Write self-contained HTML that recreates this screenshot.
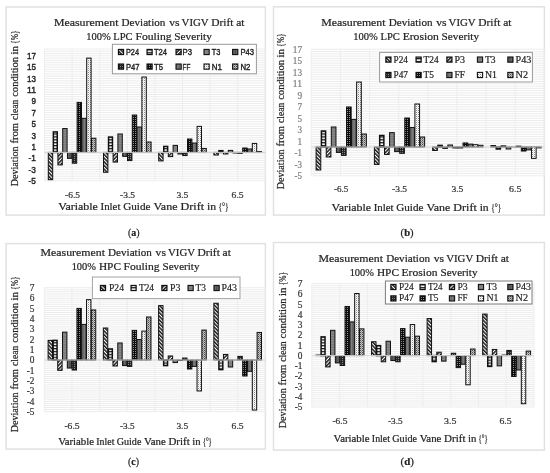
<!DOCTYPE html>
<html lang="en"><head><meta charset="utf-8"><title>Measurement Deviation vs VIGV Drift</title>
<style>html,body{margin:0;padding:0;background:#fff}svg{display:block}text{white-space:pre}</style>
</head><body>
<svg width="550" height="473" viewBox="0 0 550 473">
<rect width="550" height="473" fill="#fff"/>
<defs>
<pattern id="pP24" width="2.6" height="2.6" patternUnits="userSpaceOnUse" patternTransform="rotate(-45)"><rect width="2.6" height="2.6" fill="#fff"/><rect width="1.5" height="2.6" fill="#1a1a1a"/></pattern>
<pattern id="pP3" width="2.6" height="2.6" patternUnits="userSpaceOnUse" patternTransform="rotate(45)"><rect width="2.6" height="2.6" fill="#fff"/><rect width="1.5" height="2.6" fill="#1a1a1a"/></pattern>
<pattern id="pT24" width="30" height="2.9" patternUnits="userSpaceOnUse"><rect width="30" height="2.9" fill="#fff"/><rect width="30" height="1.3" fill="#1a1a1a"/></pattern>
<pattern id="pT3" width="30" height="1.6" patternUnits="userSpaceOnUse"><rect width="30" height="1.6" fill="#8c8c8c"/><rect width="30" height="0.6" fill="#707070"/></pattern>
<pattern id="pP43" width="1.6" height="30" patternUnits="userSpaceOnUse"><rect width="1.6" height="30" fill="#6a6a6a"/><rect width="0.7" height="30" fill="#444"/></pattern>
<pattern id="pP47" width="2" height="2" patternUnits="userSpaceOnUse"><rect width="2" height="2" fill="#262626"/><rect x="0" y="0" width="1" height="1" fill="#8a8a8a"/></pattern>
<pattern id="pT5" width="2" height="2" patternUnits="userSpaceOnUse"><rect width="2" height="2" fill="#0d0d0d"/><rect x="1" y="1" width="1" height="1" fill="#909090"/></pattern>
<pattern id="pFF" width="1.6" height="30" patternUnits="userSpaceOnUse"><rect width="1.6" height="30" fill="#808080"/><rect width="0.6" height="30" fill="#5c5c5c"/></pattern>
<pattern id="pN1" width="2" height="2" patternUnits="userSpaceOnUse"><rect width="2" height="2" fill="#fff"/><rect x="0" y="0" width="1" height="1" fill="#8c8c8c"/><rect x="1" y="1" width="1" height="1" fill="#e0e0e0"/></pattern>
<pattern id="pN2" width="2" height="2" patternUnits="userSpaceOnUse"><rect width="2" height="2" fill="#c4c4c4"/><rect x="0" y="0" width="1" height="1" fill="#4a4a4a"/><rect x="1" y="1" width="1" height="1" fill="#8a8a8a"/></pattern>
</defs>
<g>
<rect x="6.1" y="7" width="259.3" height="208.1" fill="#fff" stroke="#e1e1e1" stroke-width="1.5"/>
<path d="M44.5 180.8H265.3M44.5 178.53H265.3M44.5 176.26H265.3M44.5 173.98H265.3M44.5 171.71H265.3M44.5 169.44H265.3M44.5 167.17H265.3M44.5 164.9H265.3M44.5 162.62H265.3M44.5 160.35H265.3M44.5 158.08H265.3M44.5 155.81H265.3M44.5 153.54H265.3M44.5 151.26H265.3M44.5 148.99H265.3M44.5 146.72H265.3M44.5 144.45H265.3M44.5 142.18H265.3M44.5 139.9H265.3M44.5 137.63H265.3M44.5 135.36H265.3M44.5 133.09H265.3M44.5 130.82H265.3M44.5 128.54H265.3M44.5 126.27H265.3M44.5 124H265.3M44.5 121.73H265.3M44.5 119.46H265.3M44.5 117.18H265.3M44.5 114.91H265.3M44.5 112.64H265.3M44.5 110.37H265.3M44.5 108.1H265.3M44.5 105.82H265.3M44.5 103.55H265.3M44.5 101.28H265.3M44.5 99.01H265.3M44.5 96.74H265.3M44.5 94.46H265.3M44.5 92.19H265.3M44.5 89.92H265.3M44.5 87.65H265.3M44.5 85.38H265.3M44.5 83.1H265.3M44.5 80.83H265.3M44.5 78.56H265.3M44.5 76.29H265.3M44.5 74.02H265.3M44.5 71.74H265.3M44.5 69.47H265.3M44.5 67.2H265.3M44.5 64.93H265.3M44.5 62.66H265.3M44.5 60.38H265.3M44.5 58.11H265.3M44.5 55.84H265.3M44.5 53.57H265.3M44.5 51.3H265.3M44.5 49.02H265.3" stroke="#eaeaea" stroke-width="0.9" fill="none"/>
<path d="M44.5 50.16V180.8M72.1 50.16V180.8M99.7 50.16V180.8M127.3 50.16V180.8M154.9 50.16V180.8M182.5 50.16V180.8M210.1 50.16V180.8M237.7 50.16V180.8M265.3 50.16V180.8" stroke="#ececec" stroke-width="0.9" fill="none"/>
<rect x="48.3" y="152.4" width="4.4" height="27.26" fill="url(#pP24)" stroke="#111" stroke-width="1"/>
<rect x="53.35" y="131.95" width="3.9" height="20.45" fill="url(#pT24)" stroke="#111" stroke-width="1.5"/>
<rect x="57.9" y="152.4" width="4.4" height="12.5" fill="url(#pP3)" stroke="#111" stroke-width="1"/>
<rect x="62.7" y="128.54" width="4.4" height="23.86" fill="url(#pT3)" stroke="#111" stroke-width="1"/>
<rect x="67.5" y="152.4" width="4.4" height="5.96" fill="url(#pP43)" stroke="#111" stroke-width="1"/>
<rect x="72.3" y="152.4" width="4.4" height="10.79" fill="url(#pP47)" stroke="#111" stroke-width="1"/>
<rect x="77.1" y="102.42" width="4.4" height="49.98" fill="url(#pT5)" stroke="#111" stroke-width="1"/>
<rect x="81.9" y="118.32" width="4.4" height="34.08" fill="url(#pFF)" stroke="#111" stroke-width="1"/>
<rect x="86.7" y="58.11" width="4.4" height="94.29" fill="url(#pN1)" stroke="#111" stroke-width="1"/>
<rect x="91.5" y="138.2" width="4.4" height="14.2" fill="url(#pN2)" stroke="#111" stroke-width="1"/>
<rect x="103.5" y="152.4" width="4.4" height="19.88" fill="url(#pP24)" stroke="#111" stroke-width="1"/>
<rect x="108.55" y="137.06" width="3.9" height="15.34" fill="url(#pT24)" stroke="#111" stroke-width="1.5"/>
<rect x="113.1" y="152.4" width="4.4" height="9.66" fill="url(#pP3)" stroke="#111" stroke-width="1"/>
<rect x="117.9" y="134" width="4.4" height="18.4" fill="url(#pT3)" stroke="#111" stroke-width="1"/>
<rect x="122.7" y="152.4" width="4.4" height="3.98" fill="url(#pP43)" stroke="#111" stroke-width="1"/>
<rect x="127.5" y="152.4" width="4.4" height="8.18" fill="url(#pP47)" stroke="#111" stroke-width="1"/>
<rect x="132.3" y="115.03" width="4.4" height="37.37" fill="url(#pT5)" stroke="#111" stroke-width="1"/>
<rect x="137.1" y="127.01" width="4.4" height="25.39" fill="url(#pFF)" stroke="#111" stroke-width="1"/>
<rect x="141.9" y="77.03" width="4.4" height="75.37" fill="url(#pN1)" stroke="#111" stroke-width="1"/>
<rect x="146.7" y="142.01" width="4.4" height="10.39" fill="url(#pN2)" stroke="#111" stroke-width="1"/>
<rect x="158.7" y="152.4" width="4.4" height="8.52" fill="url(#pP24)" stroke="#111" stroke-width="1"/>
<rect x="163.75" y="146.44" width="3.9" height="5.96" fill="url(#pT24)" stroke="#111" stroke-width="1.5"/>
<rect x="168.3" y="152.4" width="4.4" height="4.2" fill="url(#pP3)" stroke="#111" stroke-width="1"/>
<rect x="173.1" y="145.41" width="4.4" height="6.99" fill="url(#pT3)" stroke="#111" stroke-width="1"/>
<rect x="177.9" y="152.4" width="4.4" height="1.59" fill="url(#pP43)" stroke="#111" stroke-width="1"/>
<rect x="182.7" y="152.4" width="4.4" height="3.18" fill="url(#pP47)" stroke="#111" stroke-width="1"/>
<rect x="187.5" y="139" width="4.4" height="13.4" fill="url(#pT5)" stroke="#111" stroke-width="1"/>
<rect x="192.3" y="143.03" width="4.4" height="9.37" fill="url(#pFF)" stroke="#111" stroke-width="1"/>
<rect x="197.1" y="126.39" width="4.4" height="26.01" fill="url(#pN1)" stroke="#111" stroke-width="1"/>
<rect x="201.9" y="148.42" width="4.4" height="3.98" fill="url(#pN2)" stroke="#111" stroke-width="1"/>
<rect x="213.9" y="152.4" width="4.4" height="2.61" fill="url(#pP24)" stroke="#111" stroke-width="1"/>
<rect x="218.95" y="150.7" width="3.9" height="1.7" fill="url(#pT24)" stroke="#111" stroke-width="1.5"/>
<rect x="223.5" y="152.4" width="4.4" height="1.59" fill="url(#pP3)" stroke="#111" stroke-width="1"/>
<rect x="228.3" y="150.41" width="4.4" height="1.99" fill="url(#pT3)" stroke="#111" stroke-width="1"/>
<rect x="233.1" y="152.4" width="4.4" height="0.57" fill="url(#pP43)" stroke="#111" stroke-width="1"/>
<rect x="237.9" y="152.4" width="4.4" height="0.85" fill="url(#pP47)" stroke="#111" stroke-width="1"/>
<rect x="242.7" y="148.03" width="4.4" height="4.37" fill="url(#pT5)" stroke="#111" stroke-width="1"/>
<rect x="247.5" y="148.99" width="4.4" height="3.41" fill="url(#pFF)" stroke="#111" stroke-width="1"/>
<rect x="252.3" y="143.43" width="4.4" height="8.97" fill="url(#pN1)" stroke="#111" stroke-width="1"/>
<rect x="257.1" y="151.6" width="4.4" height="0.8" fill="url(#pN2)" stroke="#111" stroke-width="1"/>
<path d="M44.5 152.4H265.3" stroke="#d4d4d4" stroke-width="1" fill="none"/>
<text x="28.6" y="184" font-size="9.2" font-family='"Liberation Sans", sans-serif' fill="#262626" stroke="#262626" stroke-width="0.42" textLength="7.4" lengthAdjust="spacingAndGlyphs">-5</text>
<text x="28.6" y="172.64" font-size="9.2" font-family='"Liberation Sans", sans-serif' fill="#262626" stroke="#262626" stroke-width="0.42" textLength="7.4" lengthAdjust="spacingAndGlyphs">-3</text>
<text x="28.6" y="161.28" font-size="9.2" font-family='"Liberation Sans", sans-serif' fill="#262626" stroke="#262626" stroke-width="0.42" textLength="7.4" lengthAdjust="spacingAndGlyphs">-1</text>
<text x="31.5" y="149.92" font-size="9.2" font-family='"Liberation Sans", sans-serif' fill="#262626" stroke="#262626" stroke-width="0.42" textLength="4.5" lengthAdjust="spacingAndGlyphs">1</text>
<text x="31.5" y="138.56" font-size="9.2" font-family='"Liberation Sans", sans-serif' fill="#262626" stroke="#262626" stroke-width="0.42" textLength="4.5" lengthAdjust="spacingAndGlyphs">3</text>
<text x="31.5" y="127.2" font-size="9.2" font-family='"Liberation Sans", sans-serif' fill="#262626" stroke="#262626" stroke-width="0.42" textLength="4.5" lengthAdjust="spacingAndGlyphs">5</text>
<text x="31.5" y="115.84" font-size="9.2" font-family='"Liberation Sans", sans-serif' fill="#262626" stroke="#262626" stroke-width="0.42" textLength="4.5" lengthAdjust="spacingAndGlyphs">7</text>
<text x="31.5" y="104.48" font-size="9.2" font-family='"Liberation Sans", sans-serif' fill="#262626" stroke="#262626" stroke-width="0.42" textLength="4.5" lengthAdjust="spacingAndGlyphs">9</text>
<text x="27" y="93.12" font-size="9.2" font-family='"Liberation Sans", sans-serif' fill="#262626" stroke="#262626" stroke-width="0.42" textLength="9" lengthAdjust="spacingAndGlyphs">11</text>
<text x="27" y="81.76" font-size="9.2" font-family='"Liberation Sans", sans-serif' fill="#262626" stroke="#262626" stroke-width="0.42" textLength="9" lengthAdjust="spacingAndGlyphs">13</text>
<text x="27" y="70.4" font-size="9.2" font-family='"Liberation Sans", sans-serif' fill="#262626" stroke="#262626" stroke-width="0.42" textLength="9" lengthAdjust="spacingAndGlyphs">15</text>
<text x="27" y="59.04" font-size="9.2" font-family='"Liberation Sans", sans-serif' fill="#262626" stroke="#262626" stroke-width="0.42" textLength="9" lengthAdjust="spacingAndGlyphs">17</text>
<text y="25.6" font-size="11" font-family='"Liberation Serif", serif' fill="#262626" stroke="#262626" stroke-width="0.22">
<tspan x="53.95" textLength="64.5" lengthAdjust="spacingAndGlyphs">Measurement</tspan> 
<tspan x="121.55" textLength="43.9" lengthAdjust="spacingAndGlyphs">Deviation</tspan> 
<tspan x="169.15" textLength="10.3" lengthAdjust="spacingAndGlyphs">vs</tspan> 
<tspan x="181.55" textLength="26.9" lengthAdjust="spacingAndGlyphs">VIGV</tspan> 
<tspan x="211.15" textLength="22.3" lengthAdjust="spacingAndGlyphs">Drift</tspan> 
<tspan x="236.15" textLength="8.3" lengthAdjust="spacingAndGlyphs">at</tspan>
</text>
<text y="39.8" font-size="11" font-family='"Liberation Serif", serif' fill="#262626" stroke="#262626" stroke-width="0.22">
<tspan x="86.15" textLength="24.5" lengthAdjust="spacingAndGlyphs">100%</tspan> 
<tspan x="113.25" textLength="19.4" lengthAdjust="spacingAndGlyphs">LPC</tspan> 
<tspan x="135.45" textLength="36.2" lengthAdjust="spacingAndGlyphs">Fouling</tspan> 
<tspan x="174.35" textLength="37.5" lengthAdjust="spacingAndGlyphs">Severity</tspan>
</text>
<text transform="translate(18.3 186) rotate(-90)" y="0" font-size="10.5" font-family='"Liberation Serif", serif' fill="#262626" stroke="#262626" stroke-width="0.22">
<tspan x="-0.25" textLength="39.8" lengthAdjust="spacingAndGlyphs">Deviation</tspan> 
<tspan x="42.45" textLength="20.7" lengthAdjust="spacingAndGlyphs">from</tspan> 
<tspan x="65.95" textLength="20.3" lengthAdjust="spacingAndGlyphs">clean</tspan> 
<tspan x="89.15" textLength="40" lengthAdjust="spacingAndGlyphs">condition</tspan> 
<tspan x="131.55" textLength="8.4" lengthAdjust="spacingAndGlyphs">in</tspan> 
<tspan x="142.25" textLength="13.2" lengthAdjust="spacingAndGlyphs">{%}</tspan>
</text>
<text y="210" font-size="10.8" font-family='"Liberation Serif", serif' fill="#262626" stroke="#262626" stroke-width="0.22">
<tspan x="58.15" textLength="39.7" lengthAdjust="spacingAndGlyphs">Variable</tspan> 
<tspan x="100.55" textLength="19.9" lengthAdjust="spacingAndGlyphs">Inlet</tspan> 
<tspan x="123.15" textLength="27.3" lengthAdjust="spacingAndGlyphs">Guide</tspan> 
<tspan x="153.55" textLength="23.9" lengthAdjust="spacingAndGlyphs">Vane</tspan> 
<tspan x="180.55" textLength="23.5" lengthAdjust="spacingAndGlyphs">Drift</tspan> 
<tspan x="206.95" textLength="9.1" lengthAdjust="spacingAndGlyphs">in</tspan> 
<tspan x="218.55" textLength="10.1" lengthAdjust="spacingAndGlyphs">{°}</tspan>
</text>
<text x="65" y="197.6" font-size="9.2" font-family='"Liberation Serif", serif' fill="#333" stroke="#333" stroke-width="0.22" textLength="15" lengthAdjust="spacingAndGlyphs">-6.5</text>
<text x="120" y="197.6" font-size="9.2" font-family='"Liberation Serif", serif' fill="#333" stroke="#333" stroke-width="0.22" textLength="15" lengthAdjust="spacingAndGlyphs">-3.5</text>
<text x="176.4" y="197.6" font-size="9.2" font-family='"Liberation Serif", serif' fill="#333" stroke="#333" stroke-width="0.22" textLength="12" lengthAdjust="spacingAndGlyphs">3.5</text>
<text x="231.6" y="197.6" font-size="9.2" font-family='"Liberation Serif", serif' fill="#333" stroke="#333" stroke-width="0.22" textLength="12" lengthAdjust="spacingAndGlyphs">6.5</text>
<rect x="112.4" y="44.3" width="144" height="29.5" fill="#fff" stroke="#999" stroke-width="1"/>
<rect x="118.47" y="49.48" width="5.05" height="5.05" fill="url(#pP24)" stroke="#111" stroke-width="1.25"/>
<text x="126" y="55.3" font-size="9.2" font-family='"Liberation Sans", sans-serif' fill="#262626" stroke="#262626" stroke-width="0.42" textLength="13" lengthAdjust="spacingAndGlyphs">P24</text>
<rect x="147.07" y="49.48" width="5.05" height="5.05" fill="url(#pT24)" stroke="#111" stroke-width="1.25"/>
<text x="154" y="55.3" font-size="9.2" font-family='"Liberation Sans", sans-serif' fill="#262626" stroke="#262626" stroke-width="0.42" textLength="13" lengthAdjust="spacingAndGlyphs">T24</text>
<rect x="176.07" y="49.48" width="5.05" height="5.05" fill="url(#pP3)" stroke="#111" stroke-width="1.25"/>
<text x="182.6" y="55.3" font-size="9.2" font-family='"Liberation Sans", sans-serif' fill="#262626" stroke="#262626" stroke-width="0.42" textLength="9.4" lengthAdjust="spacingAndGlyphs">P3</text>
<rect x="204" y="49.4" width="5.2" height="5.2" fill="url(#pT3)" stroke="#111" stroke-width="1.1"/>
<text x="211.8" y="55.3" font-size="9.2" font-family='"Liberation Sans", sans-serif' fill="#262626" stroke="#262626" stroke-width="0.42" textLength="8.6" lengthAdjust="spacingAndGlyphs">T3</text>
<rect x="232.6" y="49.4" width="5.2" height="5.2" fill="url(#pP43)" stroke="#111" stroke-width="1.1"/>
<text x="240.4" y="55.3" font-size="9.2" font-family='"Liberation Sans", sans-serif' fill="#262626" stroke="#262626" stroke-width="0.42" textLength="13.6" lengthAdjust="spacingAndGlyphs">P43</text>
<rect x="118.47" y="64.07" width="5.05" height="5.05" fill="url(#pP47)" stroke="#111" stroke-width="1.25"/>
<text x="126" y="69.9" font-size="9.2" font-family='"Liberation Sans", sans-serif' fill="#262626" stroke="#262626" stroke-width="0.42" textLength="13.6" lengthAdjust="spacingAndGlyphs">P47</text>
<rect x="147.07" y="64.07" width="5.05" height="5.05" fill="url(#pT5)" stroke="#111" stroke-width="1.25"/>
<text x="154" y="69.9" font-size="9.2" font-family='"Liberation Sans", sans-serif' fill="#262626" stroke="#262626" stroke-width="0.42" textLength="9" lengthAdjust="spacingAndGlyphs">T5</text>
<rect x="176" y="64" width="5.2" height="5.2" fill="url(#pFF)" stroke="#111" stroke-width="1.1"/>
<text x="182.6" y="69.9" font-size="9.2" font-family='"Liberation Sans", sans-serif' fill="#262626" stroke="#262626" stroke-width="0.42" textLength="7.8" lengthAdjust="spacingAndGlyphs">FF</text>
<rect x="204" y="64" width="5.2" height="5.2" fill="url(#pN1)" stroke="#111" stroke-width="1.1"/>
<text x="211.8" y="69.9" font-size="9.2" font-family='"Liberation Sans", sans-serif' fill="#262626" stroke="#262626" stroke-width="0.42" textLength="10.2" lengthAdjust="spacingAndGlyphs">N1</text>
<rect x="232.6" y="64" width="5.2" height="5.2" fill="url(#pN2)" stroke="#111" stroke-width="1.1"/>
<text x="240.4" y="69.9" font-size="9.2" font-family='"Liberation Sans", sans-serif' fill="#262626" stroke="#262626" stroke-width="0.42" textLength="10" lengthAdjust="spacingAndGlyphs">N2</text>
<text x="128" y="236" font-size="10.5" font-family='"Liberation Serif", serif' fill="#222" stroke="#222" stroke-width="0.2" textLength="11.6" lengthAdjust="spacingAndGlyphs">(<tspan font-weight="bold">a</tspan>)</text>
</g>
<g>
<rect x="273.5" y="6.8" width="270.9" height="208.3" fill="#fff" stroke="#e1e1e1" stroke-width="1.5"/>
<path d="M311.3 175.75H544.4M311.3 173.45H544.4M311.3 171.15H544.4M311.3 168.85H544.4M311.3 166.55H544.4M311.3 164.25H544.4M311.3 161.95H544.4M311.3 159.65H544.4M311.3 157.35H544.4M311.3 155.05H544.4M311.3 152.75H544.4M311.3 150.45H544.4M311.3 148.15H544.4M311.3 145.85H544.4M311.3 143.55H544.4M311.3 141.25H544.4M311.3 138.95H544.4M311.3 136.65H544.4M311.3 134.35H544.4M311.3 132.05H544.4M311.3 129.75H544.4M311.3 127.45H544.4M311.3 125.15H544.4M311.3 122.85H544.4M311.3 120.55H544.4M311.3 118.25H544.4M311.3 115.95H544.4M311.3 113.65H544.4M311.3 111.35H544.4M311.3 109.05H544.4M311.3 106.75H544.4M311.3 104.45H544.4M311.3 102.15H544.4M311.3 99.85H544.4M311.3 97.55H544.4M311.3 95.25H544.4M311.3 92.95H544.4M311.3 90.65H544.4M311.3 88.35H544.4M311.3 86.05H544.4M311.3 83.75H544.4M311.3 81.45H544.4M311.3 79.15H544.4M311.3 76.85H544.4M311.3 74.55H544.4M311.3 72.25H544.4M311.3 69.95H544.4M311.3 67.65H544.4M311.3 65.35H544.4M311.3 63.05H544.4M311.3 60.75H544.4M311.3 58.45H544.4M311.3 56.15H544.4M311.3 53.85H544.4M311.3 51.55H544.4M311.3 49.25H544.4" stroke="#eaeaea" stroke-width="0.9" fill="none"/>
<path d="M311.3 49.25V175.75M340.44 49.25V175.75M369.57 49.25V175.75M398.71 49.25V175.75M427.85 49.25V175.75M456.99 49.25V175.75M486.12 49.25V175.75M515.26 49.25V175.75M544.4 49.25V175.75" stroke="#ececec" stroke-width="0.9" fill="none"/>
<rect x="316.1" y="147" width="4.67" height="23" fill="url(#pP24)" stroke="#111" stroke-width="1"/>
<rect x="321.42" y="131.01" width="4.17" height="15.99" fill="url(#pT24)" stroke="#111" stroke-width="1.5"/>
<rect x="326.24" y="147" width="4.67" height="10" fill="url(#pP3)" stroke="#111" stroke-width="1"/>
<rect x="331.3" y="126.99" width="4.67" height="20.01" fill="url(#pT3)" stroke="#111" stroke-width="1"/>
<rect x="336.37" y="147" width="4.67" height="5.41" fill="url(#pP43)" stroke="#111" stroke-width="1"/>
<rect x="341.44" y="147" width="4.67" height="8.4" fill="url(#pP47)" stroke="#111" stroke-width="1"/>
<rect x="346.5" y="106.98" width="4.67" height="40.02" fill="url(#pT5)" stroke="#111" stroke-width="1"/>
<rect x="351.57" y="119.4" width="4.67" height="27.6" fill="url(#pFF)" stroke="#111" stroke-width="1"/>
<rect x="356.64" y="82.02" width="4.67" height="64.98" fill="url(#pN1)" stroke="#111" stroke-width="1"/>
<rect x="361.71" y="134" width="4.67" height="13" fill="url(#pN2)" stroke="#111" stroke-width="1"/>
<rect x="374.38" y="147" width="4.67" height="17.42" fill="url(#pP24)" stroke="#111" stroke-width="1"/>
<rect x="379.69" y="135.5" width="4.17" height="11.5" fill="url(#pT24)" stroke="#111" stroke-width="1.5"/>
<rect x="384.51" y="147" width="4.67" height="7.42" fill="url(#pP3)" stroke="#111" stroke-width="1"/>
<rect x="389.58" y="132.62" width="4.67" height="14.38" fill="url(#pT3)" stroke="#111" stroke-width="1"/>
<rect x="394.65" y="147" width="4.67" height="4.6" fill="url(#pP43)" stroke="#111" stroke-width="1"/>
<rect x="399.71" y="147" width="4.67" height="6.32" fill="url(#pP47)" stroke="#111" stroke-width="1"/>
<rect x="404.78" y="118.02" width="4.67" height="28.98" fill="url(#pT5)" stroke="#111" stroke-width="1"/>
<rect x="409.85" y="127.45" width="4.67" height="19.55" fill="url(#pFF)" stroke="#111" stroke-width="1"/>
<rect x="414.91" y="103.99" width="4.67" height="43.01" fill="url(#pN1)" stroke="#111" stroke-width="1"/>
<rect x="419.98" y="137" width="4.67" height="10" fill="url(#pN2)" stroke="#111" stroke-width="1"/>
<rect x="432.65" y="147" width="4.67" height="3.45" fill="url(#pP24)" stroke="#111" stroke-width="1"/>
<rect x="437.97" y="145.39" width="4.17" height="1.61" fill="url(#pT24)" stroke="#111" stroke-width="1.5"/>
<rect x="442.79" y="147" width="4.67" height="1.38" fill="url(#pP3)" stroke="#111" stroke-width="1"/>
<rect x="447.85" y="144.99" width="4.67" height="2.01" fill="url(#pT3)" stroke="#111" stroke-width="1"/>
<rect x="452.92" y="147" width="4.67" height="0.98" fill="url(#pP43)" stroke="#111" stroke-width="1"/>
<rect x="457.99" y="147" width="4.67" height="0.98" fill="url(#pP47)" stroke="#111" stroke-width="1"/>
<rect x="463.05" y="142.97" width="4.67" height="4.03" fill="url(#pT5)" stroke="#111" stroke-width="1"/>
<rect x="468.12" y="144.12" width="4.67" height="2.88" fill="url(#pFF)" stroke="#111" stroke-width="1"/>
<rect x="473.19" y="144.7" width="4.67" height="2.3" fill="url(#pN1)" stroke="#111" stroke-width="1"/>
<rect x="478.26" y="145.28" width="4.67" height="1.72" fill="url(#pN2)" stroke="#111" stroke-width="1"/>
<rect x="490.93" y="145.56" width="4.67" height="1.44" fill="url(#pP24)" stroke="#111" stroke-width="1"/>
<rect x="496.24" y="147" width="4.17" height="2.01" fill="url(#pT24)" stroke="#111" stroke-width="1.5"/>
<rect x="501.06" y="145.85" width="4.67" height="1.15" fill="url(#pP3)" stroke="#111" stroke-width="1"/>
<rect x="506.13" y="147" width="4.67" height="2.01" fill="url(#pT3)" stroke="#111" stroke-width="1"/>
<path d="M511 147H516.06" stroke="#222" stroke-width="0.9"/>
<rect x="516.26" y="146.14" width="4.67" height="0.86" fill="url(#pP47)" stroke="#111" stroke-width="1"/>
<rect x="521.33" y="147" width="4.67" height="4.03" fill="url(#pT5)" stroke="#111" stroke-width="1"/>
<rect x="526.4" y="147" width="4.67" height="2.88" fill="url(#pFF)" stroke="#111" stroke-width="1"/>
<rect x="531.46" y="147" width="4.67" height="11.38" fill="url(#pN1)" stroke="#111" stroke-width="1"/>
<rect x="536.53" y="147" width="4.67" height="0.86" fill="url(#pN2)" stroke="#111" stroke-width="1"/>
<path d="M311.3 147H544.4" stroke="#d4d4d4" stroke-width="1" fill="none"/>
<text x="294.6" y="179.35" font-size="10" font-family='"Liberation Serif", serif' fill="#7f7f7f" stroke="#7f7f7f" stroke-width="0.22" textLength="7.4" lengthAdjust="spacingAndGlyphs">-5</text>
<text x="294.6" y="167.85" font-size="10" font-family='"Liberation Serif", serif' fill="#7f7f7f" stroke="#7f7f7f" stroke-width="0.22" textLength="7.4" lengthAdjust="spacingAndGlyphs">-3</text>
<text x="294.6" y="156.35" font-size="10" font-family='"Liberation Serif", serif' fill="#7f7f7f" stroke="#7f7f7f" stroke-width="0.22" textLength="7.4" lengthAdjust="spacingAndGlyphs">-1</text>
<text x="297.4" y="144.85" font-size="10" font-family='"Liberation Serif", serif' fill="#7f7f7f" stroke="#7f7f7f" stroke-width="0.22" textLength="4.6" lengthAdjust="spacingAndGlyphs">1</text>
<text x="297.4" y="133.35" font-size="10" font-family='"Liberation Serif", serif' fill="#7f7f7f" stroke="#7f7f7f" stroke-width="0.22" textLength="4.6" lengthAdjust="spacingAndGlyphs">3</text>
<text x="297.4" y="121.85" font-size="10" font-family='"Liberation Serif", serif' fill="#7f7f7f" stroke="#7f7f7f" stroke-width="0.22" textLength="4.6" lengthAdjust="spacingAndGlyphs">5</text>
<text x="297.4" y="110.35" font-size="10" font-family='"Liberation Serif", serif' fill="#7f7f7f" stroke="#7f7f7f" stroke-width="0.22" textLength="4.6" lengthAdjust="spacingAndGlyphs">7</text>
<text x="297.4" y="98.85" font-size="10" font-family='"Liberation Serif", serif' fill="#7f7f7f" stroke="#7f7f7f" stroke-width="0.22" textLength="4.6" lengthAdjust="spacingAndGlyphs">9</text>
<text x="292.8" y="87.35" font-size="10" font-family='"Liberation Serif", serif' fill="#7f7f7f" stroke="#7f7f7f" stroke-width="0.22" textLength="9.2" lengthAdjust="spacingAndGlyphs">11</text>
<text x="292.8" y="75.85" font-size="10" font-family='"Liberation Serif", serif' fill="#7f7f7f" stroke="#7f7f7f" stroke-width="0.22" textLength="9.2" lengthAdjust="spacingAndGlyphs">13</text>
<text x="292.8" y="64.35" font-size="10" font-family='"Liberation Serif", serif' fill="#7f7f7f" stroke="#7f7f7f" stroke-width="0.22" textLength="9.2" lengthAdjust="spacingAndGlyphs">15</text>
<text x="292.8" y="52.85" font-size="10" font-family='"Liberation Serif", serif' fill="#7f7f7f" stroke="#7f7f7f" stroke-width="0.22" textLength="9.2" lengthAdjust="spacingAndGlyphs">17</text>
<text y="26" font-size="11" font-family='"Liberation Serif", serif' fill="#262626" stroke="#262626" stroke-width="0.22">
<tspan x="321.15" textLength="64.43" lengthAdjust="spacingAndGlyphs">Measurement</tspan> 
<tspan x="388.68" textLength="43.85" lengthAdjust="spacingAndGlyphs">Deviation</tspan> 
<tspan x="436.23" textLength="10.29" lengthAdjust="spacingAndGlyphs">vs</tspan> 
<tspan x="448.62" textLength="26.87" lengthAdjust="spacingAndGlyphs">VIGV</tspan> 
<tspan x="478.18" textLength="22.28" lengthAdjust="spacingAndGlyphs">Drift</tspan> 
<tspan x="503.16" textLength="8.29" lengthAdjust="spacingAndGlyphs">at</tspan>
</text>
<text y="40" font-size="11" font-family='"Liberation Serif", serif' fill="#262626" stroke="#262626" stroke-width="0.22">
<tspan x="353.35" textLength="24.5" lengthAdjust="spacingAndGlyphs">100%</tspan> 
<tspan x="380.45" textLength="19.4" lengthAdjust="spacingAndGlyphs">LPC</tspan> 
<tspan x="402.65" textLength="36.2" lengthAdjust="spacingAndGlyphs">Erosion</tspan> 
<tspan x="441.55" textLength="37.5" lengthAdjust="spacingAndGlyphs">Severity</tspan>
</text>
<text transform="translate(284.3 189) rotate(-90)" y="0" font-size="10.5" font-family='"Liberation Serif", serif' fill="#262626" stroke="#262626" stroke-width="0.22">
<tspan x="-0.25" textLength="39.8" lengthAdjust="spacingAndGlyphs">Deviation</tspan> 
<tspan x="42.45" textLength="20.7" lengthAdjust="spacingAndGlyphs">from</tspan> 
<tspan x="65.95" textLength="20.3" lengthAdjust="spacingAndGlyphs">clean</tspan> 
<tspan x="89.15" textLength="40" lengthAdjust="spacingAndGlyphs">condition</tspan> 
<tspan x="131.55" textLength="8.4" lengthAdjust="spacingAndGlyphs">in</tspan> 
<tspan x="142.25" textLength="13.2" lengthAdjust="spacingAndGlyphs">{%}</tspan>
</text>
<text y="210.6" font-size="10.8" font-family='"Liberation Serif", serif' fill="#262626" stroke="#262626" stroke-width="0.22">
<tspan x="331.55" textLength="39.52" lengthAdjust="spacingAndGlyphs">Variable</tspan> 
<tspan x="373.75" textLength="19.81" lengthAdjust="spacingAndGlyphs">Inlet</tspan> 
<tspan x="396.24" textLength="27.18" lengthAdjust="spacingAndGlyphs">Guide</tspan> 
<tspan x="426.5" textLength="23.79" lengthAdjust="spacingAndGlyphs">Vane</tspan> 
<tspan x="453.37" textLength="23.39" lengthAdjust="spacingAndGlyphs">Drift</tspan> 
<tspan x="479.65" textLength="9.06" lengthAdjust="spacingAndGlyphs">in</tspan> 
<tspan x="491.19" textLength="10.06" lengthAdjust="spacingAndGlyphs">{°}</tspan>
</text>
<text x="334" y="192.4" font-size="9.2" font-family='"Liberation Serif", serif' fill="#333" stroke="#333" stroke-width="0.22" textLength="14.4" lengthAdjust="spacingAndGlyphs">-6.5</text>
<text x="392" y="192.4" font-size="9.2" font-family='"Liberation Serif", serif' fill="#333" stroke="#333" stroke-width="0.22" textLength="15" lengthAdjust="spacingAndGlyphs">-3.5</text>
<text x="451.4" y="192.4" font-size="9.2" font-family='"Liberation Serif", serif' fill="#333" stroke="#333" stroke-width="0.22" textLength="12" lengthAdjust="spacingAndGlyphs">3.5</text>
<text x="509" y="192.4" font-size="9.2" font-family='"Liberation Serif", serif' fill="#333" stroke="#333" stroke-width="0.22" textLength="12.4" lengthAdjust="spacingAndGlyphs">6.5</text>
<rect x="379.6" y="52.4" width="152.8" height="29.6" fill="#fff" stroke="#999" stroke-width="1"/>
<rect x="385.88" y="57.08" width="5.05" height="5.05" fill="url(#pP24)" stroke="#111" stroke-width="1.25"/>
<text x="393.6" y="62.8" font-size="9.6" font-family='"Liberation Serif", serif' fill="#262626" stroke="#262626" stroke-width="0.22" textLength="14.4" lengthAdjust="spacingAndGlyphs">P24</text>
<rect x="416.08" y="57.08" width="5.05" height="5.05" fill="url(#pT24)" stroke="#111" stroke-width="1.25"/>
<text x="423.6" y="62.8" font-size="9.6" font-family='"Liberation Serif", serif' fill="#262626" stroke="#262626" stroke-width="0.22" textLength="15" lengthAdjust="spacingAndGlyphs">T24</text>
<rect x="446.88" y="57.08" width="5.05" height="5.05" fill="url(#pP3)" stroke="#111" stroke-width="1.25"/>
<text x="454.4" y="62.8" font-size="9.6" font-family='"Liberation Serif", serif' fill="#262626" stroke="#262626" stroke-width="0.22" textLength="10.6" lengthAdjust="spacingAndGlyphs">P3</text>
<rect x="477.4" y="57" width="5.2" height="5.2" fill="url(#pT3)" stroke="#111" stroke-width="1.1"/>
<text x="485" y="62.8" font-size="9.6" font-family='"Liberation Serif", serif' fill="#262626" stroke="#262626" stroke-width="0.22" textLength="10.6" lengthAdjust="spacingAndGlyphs">T3</text>
<rect x="507.8" y="57" width="5.2" height="5.2" fill="url(#pP43)" stroke="#111" stroke-width="1.1"/>
<text x="515.6" y="62.8" font-size="9.6" font-family='"Liberation Serif", serif' fill="#262626" stroke="#262626" stroke-width="0.22" textLength="15.8" lengthAdjust="spacingAndGlyphs">P43</text>
<rect x="385.88" y="72.47" width="5.05" height="5.05" fill="url(#pP47)" stroke="#111" stroke-width="1.25"/>
<text x="393.6" y="78.2" font-size="9.6" font-family='"Liberation Serif", serif' fill="#262626" stroke="#262626" stroke-width="0.22" textLength="14.4" lengthAdjust="spacingAndGlyphs">P47</text>
<rect x="416.08" y="72.47" width="5.05" height="5.05" fill="url(#pT5)" stroke="#111" stroke-width="1.25"/>
<text x="423.6" y="78.2" font-size="9.6" font-family='"Liberation Serif", serif' fill="#262626" stroke="#262626" stroke-width="0.22" textLength="10.4" lengthAdjust="spacingAndGlyphs">T5</text>
<rect x="446.8" y="72.4" width="5.2" height="5.2" fill="url(#pFF)" stroke="#111" stroke-width="1.1"/>
<text x="454.4" y="78.2" font-size="9.6" font-family='"Liberation Serif", serif' fill="#262626" stroke="#262626" stroke-width="0.22" textLength="10.6" lengthAdjust="spacingAndGlyphs">FF</text>
<rect x="477.4" y="72.4" width="5.2" height="5.2" fill="url(#pN1)" stroke="#111" stroke-width="1.1"/>
<text x="485" y="78.2" font-size="9.6" font-family='"Liberation Serif", serif' fill="#262626" stroke="#262626" stroke-width="0.22" textLength="12" lengthAdjust="spacingAndGlyphs">N1</text>
<rect x="507.8" y="72.4" width="5.2" height="5.2" fill="url(#pN2)" stroke="#111" stroke-width="1.1"/>
<text x="515.6" y="78.2" font-size="9.6" font-family='"Liberation Serif", serif' fill="#262626" stroke="#262626" stroke-width="0.22" textLength="12.4" lengthAdjust="spacingAndGlyphs">N2</text>
<text x="400.6" y="236" font-size="10.5" font-family='"Liberation Serif", serif' fill="#222" stroke="#222" stroke-width="0.2" textLength="13" lengthAdjust="spacingAndGlyphs">(<tspan font-weight="bold">b</tspan>)</text>
</g>
<g>
<rect x="6.1" y="243.6" width="259.3" height="205.5" fill="#fff" stroke="#e1e1e1" stroke-width="1.5"/>
<path d="M44.3 411.6H265.3M44.3 409.54H265.3M44.3 407.47H265.3M44.3 405.41H265.3M44.3 403.34H265.3M44.3 401.28H265.3M44.3 399.22H265.3M44.3 397.15H265.3M44.3 395.09H265.3M44.3 393.02H265.3M44.3 390.96H265.3M44.3 388.9H265.3M44.3 386.83H265.3M44.3 384.77H265.3M44.3 382.7H265.3M44.3 380.64H265.3M44.3 378.58H265.3M44.3 376.51H265.3M44.3 374.45H265.3M44.3 372.38H265.3M44.3 370.32H265.3M44.3 368.26H265.3M44.3 366.19H265.3M44.3 364.13H265.3M44.3 362.06H265.3M44.3 360H265.3M44.3 357.94H265.3M44.3 355.87H265.3M44.3 353.81H265.3M44.3 351.74H265.3M44.3 349.68H265.3M44.3 347.62H265.3M44.3 345.55H265.3M44.3 343.49H265.3M44.3 341.42H265.3M44.3 339.36H265.3M44.3 337.3H265.3M44.3 335.23H265.3M44.3 333.17H265.3M44.3 331.1H265.3M44.3 329.04H265.3M44.3 326.98H265.3M44.3 324.91H265.3M44.3 322.85H265.3M44.3 320.78H265.3M44.3 318.72H265.3M44.3 316.66H265.3M44.3 314.59H265.3M44.3 312.53H265.3M44.3 310.46H265.3M44.3 308.4H265.3M44.3 306.34H265.3M44.3 304.27H265.3M44.3 302.21H265.3M44.3 300.14H265.3M44.3 298.08H265.3M44.3 296.02H265.3M44.3 293.95H265.3M44.3 291.89H265.3M44.3 289.82H265.3M44.3 287.76H265.3" stroke="#eaeaea" stroke-width="0.9" fill="none"/>
<path d="M44.3 287.76V411.6M71.92 287.76V411.6M99.55 287.76V411.6M127.17 287.76V411.6M154.8 287.76V411.6M182.43 287.76V411.6M210.05 287.76V411.6M237.68 287.76V411.6M265.3 287.76V411.6" stroke="#ececec" stroke-width="0.9" fill="none"/>
<rect x="48.1" y="340.39" width="4.4" height="19.61" fill="url(#pP24)" stroke="#111" stroke-width="1"/>
<rect x="53.16" y="340.39" width="3.9" height="19.61" fill="url(#pT24)" stroke="#111" stroke-width="1.5"/>
<rect x="57.71" y="360" width="4.4" height="10.32" fill="url(#pP3)" stroke="#111" stroke-width="1"/>
<rect x="62.52" y="332.14" width="4.4" height="27.86" fill="url(#pT3)" stroke="#111" stroke-width="1"/>
<rect x="67.32" y="360" width="4.4" height="8.05" fill="url(#pP43)" stroke="#111" stroke-width="1"/>
<rect x="72.12" y="360" width="4.4" height="10.01" fill="url(#pP47)" stroke="#111" stroke-width="1"/>
<rect x="76.93" y="308.4" width="4.4" height="51.6" fill="url(#pT5)" stroke="#111" stroke-width="1"/>
<rect x="81.73" y="324.4" width="4.4" height="35.6" fill="url(#pFF)" stroke="#111" stroke-width="1"/>
<rect x="86.54" y="299.63" width="4.4" height="60.37" fill="url(#pN1)" stroke="#111" stroke-width="1"/>
<rect x="91.34" y="309.95" width="4.4" height="50.05" fill="url(#pN2)" stroke="#111" stroke-width="1"/>
<rect x="103.35" y="328.01" width="4.4" height="31.99" fill="url(#pP24)" stroke="#111" stroke-width="1"/>
<rect x="108.41" y="348.96" width="3.9" height="11.04" fill="url(#pT24)" stroke="#111" stroke-width="1.5"/>
<rect x="112.96" y="360" width="4.4" height="5.99" fill="url(#pP3)" stroke="#111" stroke-width="1"/>
<rect x="117.77" y="342.97" width="4.4" height="17.03" fill="url(#pT3)" stroke="#111" stroke-width="1"/>
<rect x="122.57" y="360" width="4.4" height="5.57" fill="url(#pP43)" stroke="#111" stroke-width="1"/>
<rect x="127.38" y="360" width="4.4" height="6.4" fill="url(#pP47)" stroke="#111" stroke-width="1"/>
<rect x="132.18" y="330.38" width="4.4" height="29.62" fill="url(#pT5)" stroke="#111" stroke-width="1"/>
<rect x="136.98" y="339.57" width="4.4" height="20.43" fill="url(#pFF)" stroke="#111" stroke-width="1"/>
<rect x="141.79" y="331.1" width="4.4" height="28.9" fill="url(#pN1)" stroke="#111" stroke-width="1"/>
<rect x="146.59" y="316.97" width="4.4" height="43.03" fill="url(#pN2)" stroke="#111" stroke-width="1"/>
<rect x="158.6" y="305.61" width="4.4" height="54.39" fill="url(#pP24)" stroke="#111" stroke-width="1"/>
<rect x="163.66" y="360" width="3.9" height="5.57" fill="url(#pT24)" stroke="#111" stroke-width="1.5"/>
<rect x="168.21" y="355.98" width="4.4" height="4.02" fill="url(#pP3)" stroke="#111" stroke-width="1"/>
<rect x="173.02" y="360" width="4.4" height="2.58" fill="url(#pT3)" stroke="#111" stroke-width="1"/>
<rect x="177.82" y="360" width="4.4" height="0.52" fill="url(#pP43)" stroke="#111" stroke-width="1"/>
<rect x="182.62" y="358.04" width="4.4" height="1.96" fill="url(#pP47)" stroke="#111" stroke-width="1"/>
<rect x="187.43" y="360" width="4.4" height="8.98" fill="url(#pT5)" stroke="#111" stroke-width="1"/>
<rect x="192.23" y="360" width="4.4" height="6.4" fill="url(#pFF)" stroke="#111" stroke-width="1"/>
<rect x="197.04" y="360" width="4.4" height="30.96" fill="url(#pN1)" stroke="#111" stroke-width="1"/>
<rect x="201.84" y="330.07" width="4.4" height="29.93" fill="url(#pN2)" stroke="#111" stroke-width="1"/>
<rect x="213.85" y="303.24" width="4.4" height="56.76" fill="url(#pP24)" stroke="#111" stroke-width="1"/>
<rect x="218.91" y="360" width="3.9" height="9.6" fill="url(#pT24)" stroke="#111" stroke-width="1.5"/>
<rect x="223.46" y="354.43" width="4.4" height="5.57" fill="url(#pP3)" stroke="#111" stroke-width="1"/>
<rect x="228.27" y="360" width="4.4" height="7.02" fill="url(#pT3)" stroke="#111" stroke-width="1"/>
<path d="M232.87 360H237.68" stroke="#222" stroke-width="0.9"/>
<rect x="237.88" y="356.39" width="4.4" height="3.61" fill="url(#pP47)" stroke="#111" stroke-width="1"/>
<rect x="242.68" y="360" width="4.4" height="16" fill="url(#pT5)" stroke="#111" stroke-width="1"/>
<rect x="247.48" y="360" width="4.4" height="11.35" fill="url(#pFF)" stroke="#111" stroke-width="1"/>
<rect x="252.29" y="360" width="4.4" height="50.05" fill="url(#pN1)" stroke="#111" stroke-width="1"/>
<rect x="257.09" y="332.45" width="4.4" height="27.55" fill="url(#pN2)" stroke="#111" stroke-width="1"/>
<path d="M44.3 360H265.3" stroke="#d4d4d4" stroke-width="1" fill="none"/>
<text x="26.7" y="414.9" font-size="10.4" font-family='"Liberation Serif", serif' fill="#333" stroke="#333" stroke-width="0.22" textLength="7.7" lengthAdjust="spacingAndGlyphs">-5</text>
<text x="26.7" y="404.58" font-size="10.4" font-family='"Liberation Serif", serif' fill="#333" stroke="#333" stroke-width="0.22" textLength="7.7" lengthAdjust="spacingAndGlyphs">-4</text>
<text x="26.7" y="394.26" font-size="10.4" font-family='"Liberation Serif", serif' fill="#333" stroke="#333" stroke-width="0.22" textLength="7.7" lengthAdjust="spacingAndGlyphs">-3</text>
<text x="26.7" y="383.94" font-size="10.4" font-family='"Liberation Serif", serif' fill="#333" stroke="#333" stroke-width="0.22" textLength="7.7" lengthAdjust="spacingAndGlyphs">-2</text>
<text x="26.7" y="373.62" font-size="10.4" font-family='"Liberation Serif", serif' fill="#333" stroke="#333" stroke-width="0.22" textLength="7.7" lengthAdjust="spacingAndGlyphs">-1</text>
<text x="29.7" y="363.3" font-size="10.4" font-family='"Liberation Serif", serif' fill="#333" stroke="#333" stroke-width="0.22" textLength="4.7" lengthAdjust="spacingAndGlyphs">0</text>
<text x="29.7" y="352.98" font-size="10.4" font-family='"Liberation Serif", serif' fill="#333" stroke="#333" stroke-width="0.22" textLength="4.7" lengthAdjust="spacingAndGlyphs">1</text>
<text x="29.7" y="342.66" font-size="10.4" font-family='"Liberation Serif", serif' fill="#333" stroke="#333" stroke-width="0.22" textLength="4.7" lengthAdjust="spacingAndGlyphs">2</text>
<text x="29.7" y="332.34" font-size="10.4" font-family='"Liberation Serif", serif' fill="#333" stroke="#333" stroke-width="0.22" textLength="4.7" lengthAdjust="spacingAndGlyphs">3</text>
<text x="29.7" y="322.02" font-size="10.4" font-family='"Liberation Serif", serif' fill="#333" stroke="#333" stroke-width="0.22" textLength="4.7" lengthAdjust="spacingAndGlyphs">4</text>
<text x="29.7" y="311.7" font-size="10.4" font-family='"Liberation Serif", serif' fill="#333" stroke="#333" stroke-width="0.22" textLength="4.7" lengthAdjust="spacingAndGlyphs">5</text>
<text x="29.7" y="301.38" font-size="10.4" font-family='"Liberation Serif", serif' fill="#333" stroke="#333" stroke-width="0.22" textLength="4.7" lengthAdjust="spacingAndGlyphs">6</text>
<text x="29.7" y="291.06" font-size="10.4" font-family='"Liberation Serif", serif' fill="#333" stroke="#333" stroke-width="0.22" textLength="4.7" lengthAdjust="spacingAndGlyphs">7</text>
<text y="256" font-size="11" font-family='"Liberation Serif", serif' fill="#262626" stroke="#262626" stroke-width="0.22">
<tspan x="40.55" textLength="64.43" lengthAdjust="spacingAndGlyphs">Measurement</tspan> 
<tspan x="108.08" textLength="43.85" lengthAdjust="spacingAndGlyphs">Deviation</tspan> 
<tspan x="155.63" textLength="10.29" lengthAdjust="spacingAndGlyphs">vs</tspan> 
<tspan x="168.02" textLength="26.87" lengthAdjust="spacingAndGlyphs">VIGV</tspan> 
<tspan x="197.58" textLength="22.28" lengthAdjust="spacingAndGlyphs">Drift</tspan> 
<tspan x="222.56" textLength="8.29" lengthAdjust="spacingAndGlyphs">at</tspan>
</text>
<text y="269.6" font-size="11" font-family='"Liberation Serif", serif' fill="#262626" stroke="#262626" stroke-width="0.22">
<tspan x="71.65" textLength="24.3" lengthAdjust="spacingAndGlyphs">100%</tspan> 
<tspan x="98.95" textLength="22" lengthAdjust="spacingAndGlyphs">HPC</tspan> 
<tspan x="123.55" textLength="36" lengthAdjust="spacingAndGlyphs">Fouling</tspan> 
<tspan x="162.55" textLength="36.9" lengthAdjust="spacingAndGlyphs">Severity</tspan>
</text>
<text transform="translate(18.3 432) rotate(-90)" y="0" font-size="10.5" font-family='"Liberation Serif", serif' fill="#262626" stroke="#262626" stroke-width="0.22">
<tspan x="-0.25" textLength="39.8" lengthAdjust="spacingAndGlyphs">Deviation</tspan> 
<tspan x="42.45" textLength="20.7" lengthAdjust="spacingAndGlyphs">from</tspan> 
<tspan x="65.95" textLength="20.3" lengthAdjust="spacingAndGlyphs">clean</tspan> 
<tspan x="89.15" textLength="40" lengthAdjust="spacingAndGlyphs">condition</tspan> 
<tspan x="131.55" textLength="8.4" lengthAdjust="spacingAndGlyphs">in</tspan> 
<tspan x="142.25" textLength="13.2" lengthAdjust="spacingAndGlyphs">{%}</tspan>
</text>
<text y="445" font-size="9.8" font-family='"Liberation Serif", serif' fill="#262626" stroke="#262626" stroke-width="0.22">
<tspan x="58.15" textLength="35.86" lengthAdjust="spacingAndGlyphs">Variable</tspan> 
<tspan x="96.35" textLength="18.02" lengthAdjust="spacingAndGlyphs">Inlet</tspan> 
<tspan x="116.72" textLength="24.69" lengthAdjust="spacingAndGlyphs">Guide</tspan> 
<tspan x="144.11" textLength="21.62" lengthAdjust="spacingAndGlyphs">Vane</tspan> 
<tspan x="168.44" textLength="21.26" lengthAdjust="spacingAndGlyphs">Drift</tspan> 
<tspan x="192.23" textLength="8.29" lengthAdjust="spacingAndGlyphs">in</tspan> 
<tspan x="202.68" textLength="9.19" lengthAdjust="spacingAndGlyphs">{°}</tspan>
</text>
<text x="64.4" y="428.6" font-size="9.2" font-family='"Liberation Serif", serif' fill="#333" stroke="#333" stroke-width="0.22" textLength="15.2" lengthAdjust="spacingAndGlyphs">-6.5</text>
<text x="120" y="428.6" font-size="9.2" font-family='"Liberation Serif", serif' fill="#333" stroke="#333" stroke-width="0.22" textLength="14.6" lengthAdjust="spacingAndGlyphs">-3.5</text>
<text x="176.4" y="428.6" font-size="9.2" font-family='"Liberation Serif", serif' fill="#333" stroke="#333" stroke-width="0.22" textLength="11.8" lengthAdjust="spacingAndGlyphs">3.5</text>
<text x="231.6" y="428.6" font-size="9.2" font-family='"Liberation Serif", serif' fill="#333" stroke="#333" stroke-width="0.22" textLength="12" lengthAdjust="spacingAndGlyphs">6.5</text>
<rect x="92.4" y="277" width="147.6" height="21.6" fill="#fff" stroke="#a3a3a3" stroke-width="1"/>
<rect x="100.47" y="285.48" width="5.05" height="5.05" fill="url(#pP24)" stroke="#111" stroke-width="1.25"/>
<text x="109" y="291" font-size="10.5" font-family='"Liberation Serif", serif' fill="#262626" stroke="#262626" stroke-width="0.22" textLength="15" lengthAdjust="spacingAndGlyphs">P24</text>
<rect x="131.07" y="285.48" width="5.05" height="5.05" fill="url(#pT24)" stroke="#111" stroke-width="1.25"/>
<text x="139" y="291" font-size="10.5" font-family='"Liberation Serif", serif' fill="#262626" stroke="#262626" stroke-width="0.22" textLength="15" lengthAdjust="spacingAndGlyphs">T24</text>
<rect x="161.88" y="285.48" width="5.05" height="5.05" fill="url(#pP3)" stroke="#111" stroke-width="1.25"/>
<text x="170" y="291" font-size="10.5" font-family='"Liberation Serif", serif' fill="#262626" stroke="#262626" stroke-width="0.22" textLength="10.4" lengthAdjust="spacingAndGlyphs">P3</text>
<rect x="188" y="285.4" width="5.2" height="5.2" fill="url(#pT3)" stroke="#111" stroke-width="1.1"/>
<text x="195.6" y="291" font-size="10.5" font-family='"Liberation Serif", serif' fill="#262626" stroke="#262626" stroke-width="0.22" textLength="10.4" lengthAdjust="spacingAndGlyphs">T3</text>
<rect x="214" y="285.4" width="5.2" height="5.2" fill="url(#pP43)" stroke="#111" stroke-width="1.1"/>
<text x="221.6" y="291" font-size="10.5" font-family='"Liberation Serif", serif' fill="#262626" stroke="#262626" stroke-width="0.22" textLength="15.4" lengthAdjust="spacingAndGlyphs">P43</text>
<text x="128" y="464.6" font-size="10.5" font-family='"Liberation Serif", serif' fill="#222" stroke="#222" stroke-width="0.2" textLength="11" lengthAdjust="spacingAndGlyphs">(<tspan font-weight="bold">c</tspan>)</text>
</g>
<g>
<rect x="273.5" y="242.5" width="270.9" height="207.6" fill="#fff" stroke="#e1e1e1" stroke-width="1.5"/>
<path d="M311.8 407H534M311.8 404.94H534M311.8 402.89H534M311.8 400.83H534M311.8 398.78H534M311.8 396.72H534M311.8 394.66H534M311.8 392.61H534M311.8 390.55H534M311.8 388.5H534M311.8 386.44H534M311.8 384.38H534M311.8 382.33H534M311.8 380.27H534M311.8 378.22H534M311.8 376.16H534M311.8 374.1H534M311.8 372.05H534M311.8 369.99H534M311.8 367.94H534M311.8 365.88H534M311.8 363.82H534M311.8 361.77H534M311.8 359.71H534M311.8 357.66H534M311.8 355.6H534M311.8 353.54H534M311.8 351.49H534M311.8 349.43H534M311.8 347.38H534M311.8 345.32H534M311.8 343.26H534M311.8 341.21H534M311.8 339.15H534M311.8 337.1H534M311.8 335.04H534M311.8 332.98H534M311.8 330.93H534M311.8 328.87H534M311.8 326.82H534M311.8 324.76H534M311.8 322.7H534M311.8 320.65H534M311.8 318.59H534M311.8 316.54H534M311.8 314.48H534M311.8 312.42H534M311.8 310.37H534M311.8 308.31H534M311.8 306.26H534M311.8 304.2H534M311.8 302.14H534M311.8 300.09H534M311.8 298.03H534M311.8 295.98H534M311.8 293.92H534M311.8 291.86H534M311.8 289.81H534M311.8 287.75H534M311.8 285.7H534M311.8 283.64H534" stroke="#eaeaea" stroke-width="0.9" fill="none"/>
<path d="M311.8 283.64V407M339.57 283.64V407M367.35 283.64V407M395.12 283.64V407M422.9 283.64V407M450.68 283.64V407M478.45 283.64V407M506.23 283.64V407M534 283.64V407" stroke="#ececec" stroke-width="0.9" fill="none"/>
<rect x="316.02" y="355.09" width="4.43" height="0.51" fill="url(#pP24)" stroke="#111" stroke-width="1"/>
<rect x="321.1" y="336.89" width="3.93" height="18.71" fill="url(#pT24)" stroke="#111" stroke-width="1.5"/>
<rect x="325.68" y="355.6" width="4.43" height="11.31" fill="url(#pP3)" stroke="#111" stroke-width="1"/>
<rect x="330.51" y="330.31" width="4.43" height="25.29" fill="url(#pT3)" stroke="#111" stroke-width="1"/>
<rect x="335.34" y="355.6" width="4.43" height="7.3" fill="url(#pP43)" stroke="#111" stroke-width="1"/>
<rect x="340.18" y="355.6" width="4.43" height="9.87" fill="url(#pP47)" stroke="#111" stroke-width="1"/>
<rect x="345.01" y="306.46" width="4.43" height="49.14" fill="url(#pT5)" stroke="#111" stroke-width="1"/>
<rect x="349.84" y="321.88" width="4.43" height="33.72" fill="url(#pFF)" stroke="#111" stroke-width="1"/>
<rect x="354.67" y="293.51" width="4.43" height="62.09" fill="url(#pN1)" stroke="#111" stroke-width="1"/>
<rect x="359.5" y="328.87" width="4.43" height="26.73" fill="url(#pN2)" stroke="#111" stroke-width="1"/>
<rect x="371.57" y="341.72" width="4.43" height="13.88" fill="url(#pP24)" stroke="#111" stroke-width="1"/>
<rect x="376.65" y="345.63" width="3.93" height="9.97" fill="url(#pT24)" stroke="#111" stroke-width="1.5"/>
<rect x="381.23" y="355.6" width="4.43" height="6.17" fill="url(#pP3)" stroke="#111" stroke-width="1"/>
<rect x="386.06" y="341.21" width="4.43" height="14.39" fill="url(#pT3)" stroke="#111" stroke-width="1"/>
<rect x="390.89" y="355.6" width="4.43" height="4.93" fill="url(#pP43)" stroke="#111" stroke-width="1"/>
<rect x="395.73" y="355.6" width="4.43" height="6.17" fill="url(#pP47)" stroke="#111" stroke-width="1"/>
<rect x="400.56" y="328.56" width="4.43" height="27.04" fill="url(#pT5)" stroke="#111" stroke-width="1"/>
<rect x="405.39" y="337.2" width="4.43" height="18.4" fill="url(#pFF)" stroke="#111" stroke-width="1"/>
<rect x="410.22" y="324.55" width="4.43" height="31.05" fill="url(#pN1)" stroke="#111" stroke-width="1"/>
<rect x="415.05" y="336.17" width="4.43" height="19.43" fill="url(#pN2)" stroke="#111" stroke-width="1"/>
<rect x="427.12" y="318.59" width="4.43" height="37.01" fill="url(#pP24)" stroke="#111" stroke-width="1"/>
<rect x="432.2" y="355.6" width="3.93" height="5.96" fill="url(#pT24)" stroke="#111" stroke-width="1.5"/>
<rect x="436.78" y="352.21" width="4.43" height="3.39" fill="url(#pP3)" stroke="#111" stroke-width="1"/>
<rect x="441.61" y="355.6" width="4.43" height="5.55" fill="url(#pT3)" stroke="#111" stroke-width="1"/>
<path d="M446.24 355.6H451.07" stroke="#222" stroke-width="0.9"/>
<rect x="451.27" y="353.24" width="4.43" height="2.36" fill="url(#pP47)" stroke="#111" stroke-width="1"/>
<rect x="456.11" y="355.6" width="4.43" height="12.03" fill="url(#pT5)" stroke="#111" stroke-width="1"/>
<rect x="460.94" y="355.6" width="4.43" height="8.64" fill="url(#pFF)" stroke="#111" stroke-width="1"/>
<rect x="465.77" y="355.6" width="4.43" height="29.2" fill="url(#pN1)" stroke="#111" stroke-width="1"/>
<rect x="470.6" y="349.02" width="4.43" height="6.58" fill="url(#pN2)" stroke="#111" stroke-width="1"/>
<rect x="482.67" y="314.07" width="4.43" height="41.53" fill="url(#pP24)" stroke="#111" stroke-width="1"/>
<rect x="487.75" y="355.6" width="3.93" height="10.79" fill="url(#pT24)" stroke="#111" stroke-width="1.5"/>
<rect x="492.33" y="349.43" width="4.43" height="6.17" fill="url(#pP3)" stroke="#111" stroke-width="1"/>
<rect x="497.16" y="355.6" width="4.43" height="10.28" fill="url(#pT3)" stroke="#111" stroke-width="1"/>
<rect x="501.99" y="355.09" width="4.43" height="0.51" fill="url(#pP43)" stroke="#111" stroke-width="1"/>
<rect x="506.82" y="350.46" width="4.43" height="5.14" fill="url(#pP47)" stroke="#111" stroke-width="1"/>
<rect x="511.66" y="355.6" width="4.43" height="20.87" fill="url(#pT5)" stroke="#111" stroke-width="1"/>
<rect x="516.49" y="355.6" width="4.43" height="14.39" fill="url(#pFF)" stroke="#111" stroke-width="1"/>
<rect x="521.32" y="355.6" width="4.43" height="48.11" fill="url(#pN1)" stroke="#111" stroke-width="1"/>
<rect x="526.15" y="351.08" width="4.43" height="4.52" fill="url(#pN2)" stroke="#111" stroke-width="1"/>
<path d="M311.8 355.6H534" stroke="#d4d4d4" stroke-width="1" fill="none"/>
<text x="294.7" y="410.3" font-size="10.4" font-family='"Liberation Serif", serif' fill="#333" stroke="#333" stroke-width="0.22" textLength="7.7" lengthAdjust="spacingAndGlyphs">-5</text>
<text x="294.7" y="400.02" font-size="10.4" font-family='"Liberation Serif", serif' fill="#333" stroke="#333" stroke-width="0.22" textLength="7.7" lengthAdjust="spacingAndGlyphs">-4</text>
<text x="294.7" y="389.74" font-size="10.4" font-family='"Liberation Serif", serif' fill="#333" stroke="#333" stroke-width="0.22" textLength="7.7" lengthAdjust="spacingAndGlyphs">-3</text>
<text x="294.7" y="379.46" font-size="10.4" font-family='"Liberation Serif", serif' fill="#333" stroke="#333" stroke-width="0.22" textLength="7.7" lengthAdjust="spacingAndGlyphs">-2</text>
<text x="294.7" y="369.18" font-size="10.4" font-family='"Liberation Serif", serif' fill="#333" stroke="#333" stroke-width="0.22" textLength="7.7" lengthAdjust="spacingAndGlyphs">-1</text>
<text x="297.7" y="358.9" font-size="10.4" font-family='"Liberation Serif", serif' fill="#333" stroke="#333" stroke-width="0.22" textLength="4.7" lengthAdjust="spacingAndGlyphs">0</text>
<text x="297.7" y="348.62" font-size="10.4" font-family='"Liberation Serif", serif' fill="#333" stroke="#333" stroke-width="0.22" textLength="4.7" lengthAdjust="spacingAndGlyphs">1</text>
<text x="297.7" y="338.34" font-size="10.4" font-family='"Liberation Serif", serif' fill="#333" stroke="#333" stroke-width="0.22" textLength="4.7" lengthAdjust="spacingAndGlyphs">2</text>
<text x="297.7" y="328.06" font-size="10.4" font-family='"Liberation Serif", serif' fill="#333" stroke="#333" stroke-width="0.22" textLength="4.7" lengthAdjust="spacingAndGlyphs">3</text>
<text x="297.7" y="317.78" font-size="10.4" font-family='"Liberation Serif", serif' fill="#333" stroke="#333" stroke-width="0.22" textLength="4.7" lengthAdjust="spacingAndGlyphs">4</text>
<text x="297.7" y="307.5" font-size="10.4" font-family='"Liberation Serif", serif' fill="#333" stroke="#333" stroke-width="0.22" textLength="4.7" lengthAdjust="spacingAndGlyphs">5</text>
<text x="297.7" y="297.22" font-size="10.4" font-family='"Liberation Serif", serif' fill="#333" stroke="#333" stroke-width="0.22" textLength="4.7" lengthAdjust="spacingAndGlyphs">6</text>
<text x="297.7" y="286.94" font-size="10.4" font-family='"Liberation Serif", serif' fill="#333" stroke="#333" stroke-width="0.22" textLength="4.7" lengthAdjust="spacingAndGlyphs">7</text>
<text y="262.4" font-size="11" font-family='"Liberation Serif", serif' fill="#262626" stroke="#262626" stroke-width="0.22">
<tspan x="318.55" textLength="64.5" lengthAdjust="spacingAndGlyphs">Measurement</tspan> 
<tspan x="386.15" textLength="43.9" lengthAdjust="spacingAndGlyphs">Deviation</tspan> 
<tspan x="433.75" textLength="10.3" lengthAdjust="spacingAndGlyphs">vs</tspan> 
<tspan x="446.15" textLength="26.9" lengthAdjust="spacingAndGlyphs">VIGV</tspan> 
<tspan x="475.75" textLength="22.3" lengthAdjust="spacingAndGlyphs">Drift</tspan> 
<tspan x="500.75" textLength="8.3" lengthAdjust="spacingAndGlyphs">at</tspan>
</text>
<text y="276.4" font-size="11" font-family='"Liberation Serif", serif' fill="#262626" stroke="#262626" stroke-width="0.22">
<tspan x="349.65" textLength="24.3" lengthAdjust="spacingAndGlyphs">100%</tspan> 
<tspan x="376.95" textLength="22" lengthAdjust="spacingAndGlyphs">HPC</tspan> 
<tspan x="401.55" textLength="36" lengthAdjust="spacingAndGlyphs">Erosion</tspan> 
<tspan x="440.55" textLength="36.9" lengthAdjust="spacingAndGlyphs">Severity</tspan>
</text>
<text transform="translate(286.1 428) rotate(-90)" y="0" font-size="10.5" font-family='"Liberation Serif", serif' fill="#262626" stroke="#262626" stroke-width="0.22">
<tspan x="-0.25" textLength="39.95" lengthAdjust="spacingAndGlyphs">Deviation</tspan> 
<tspan x="42.62" textLength="20.78" lengthAdjust="spacingAndGlyphs">from</tspan> 
<tspan x="66.21" textLength="20.38" lengthAdjust="spacingAndGlyphs">clean</tspan> 
<tspan x="89.5" textLength="40.15" lengthAdjust="spacingAndGlyphs">condition</tspan> 
<tspan x="132.06" textLength="8.43" lengthAdjust="spacingAndGlyphs">in</tspan> 
<tspan x="142.8" textLength="13.25" lengthAdjust="spacingAndGlyphs">{%}</tspan>
</text>
<text y="442" font-size="9.8" font-family='"Liberation Serif", serif' fill="#262626" stroke="#262626" stroke-width="0.22">
<tspan x="333.55" textLength="35.95" lengthAdjust="spacingAndGlyphs">Variable</tspan> 
<tspan x="371.85" textLength="18.06" lengthAdjust="spacingAndGlyphs">Inlet</tspan> 
<tspan x="392.27" textLength="24.75" lengthAdjust="spacingAndGlyphs">Guide</tspan> 
<tspan x="419.74" textLength="21.68" lengthAdjust="spacingAndGlyphs">Vane</tspan> 
<tspan x="444.13" textLength="21.32" lengthAdjust="spacingAndGlyphs">Drift</tspan> 
<tspan x="467.98" textLength="8.31" lengthAdjust="spacingAndGlyphs">in</tspan> 
<tspan x="478.46" textLength="9.21" lengthAdjust="spacingAndGlyphs">{°}</tspan>
</text>
<text x="332.4" y="424" font-size="9.2" font-family='"Liberation Serif", serif' fill="#333" stroke="#333" stroke-width="0.22" textLength="15" lengthAdjust="spacingAndGlyphs">-6.5</text>
<text x="388" y="424" font-size="9.2" font-family='"Liberation Serif", serif' fill="#333" stroke="#333" stroke-width="0.22" textLength="14.6" lengthAdjust="spacingAndGlyphs">-3.5</text>
<text x="444" y="424" font-size="9.2" font-family='"Liberation Serif", serif' fill="#333" stroke="#333" stroke-width="0.22" textLength="12.4" lengthAdjust="spacingAndGlyphs">3.5</text>
<text x="499.4" y="424" font-size="9.2" font-family='"Liberation Serif", serif' fill="#333" stroke="#333" stroke-width="0.22" textLength="12.2" lengthAdjust="spacingAndGlyphs">6.5</text>
<rect x="385.4" y="281" width="146.6" height="23" fill="#fff" stroke="#7d7d7d" stroke-width="1"/>
<rect x="390.88" y="284.48" width="5.05" height="5.05" fill="url(#pP24)" stroke="#111" stroke-width="1.25"/>
<text x="399" y="290" font-size="10.5" font-family='"Liberation Serif", serif' fill="#262626" stroke="#262626" stroke-width="0.22" textLength="14.6" lengthAdjust="spacingAndGlyphs">P24</text>
<rect x="420.08" y="284.48" width="5.05" height="5.05" fill="url(#pT24)" stroke="#111" stroke-width="1.25"/>
<text x="428" y="290" font-size="10.5" font-family='"Liberation Serif", serif' fill="#262626" stroke="#262626" stroke-width="0.22" textLength="14.6" lengthAdjust="spacingAndGlyphs">T24</text>
<rect x="449.48" y="284.48" width="5.05" height="5.05" fill="url(#pP3)" stroke="#111" stroke-width="1.25"/>
<text x="457.4" y="290" font-size="10.5" font-family='"Liberation Serif", serif' fill="#262626" stroke="#262626" stroke-width="0.22" textLength="10.2" lengthAdjust="spacingAndGlyphs">P3</text>
<rect x="478.4" y="284.4" width="5.2" height="5.2" fill="url(#pT3)" stroke="#111" stroke-width="1.1"/>
<text x="486.4" y="290" font-size="10.5" font-family='"Liberation Serif", serif' fill="#262626" stroke="#262626" stroke-width="0.22" textLength="10.6" lengthAdjust="spacingAndGlyphs">T3</text>
<rect x="507.8" y="284.4" width="5.2" height="5.2" fill="url(#pP43)" stroke="#111" stroke-width="1.1"/>
<text x="515.6" y="290" font-size="10.5" font-family='"Liberation Serif", serif' fill="#262626" stroke="#262626" stroke-width="0.22" textLength="15.4" lengthAdjust="spacingAndGlyphs">P43</text>
<rect x="390.88" y="295.88" width="5.05" height="5.05" fill="url(#pP47)" stroke="#111" stroke-width="1.25"/>
<text x="399" y="301.4" font-size="10.5" font-family='"Liberation Serif", serif' fill="#262626" stroke="#262626" stroke-width="0.22" textLength="14.6" lengthAdjust="spacingAndGlyphs">P47</text>
<rect x="420.08" y="295.88" width="5.05" height="5.05" fill="url(#pT5)" stroke="#111" stroke-width="1.25"/>
<text x="428" y="301.4" font-size="10.5" font-family='"Liberation Serif", serif' fill="#262626" stroke="#262626" stroke-width="0.22" textLength="10.4" lengthAdjust="spacingAndGlyphs">T5</text>
<rect x="449.4" y="295.8" width="5.2" height="5.2" fill="url(#pFF)" stroke="#111" stroke-width="1.1"/>
<text x="457.4" y="301.4" font-size="10.5" font-family='"Liberation Serif", serif' fill="#262626" stroke="#262626" stroke-width="0.22" textLength="10" lengthAdjust="spacingAndGlyphs">FF</text>
<rect x="478.4" y="295.8" width="5.2" height="5.2" fill="url(#pN1)" stroke="#111" stroke-width="1.1"/>
<text x="486.4" y="301.4" font-size="10.5" font-family='"Liberation Serif", serif' fill="#262626" stroke="#262626" stroke-width="0.22" textLength="12" lengthAdjust="spacingAndGlyphs">N1</text>
<rect x="507.8" y="295.8" width="5.2" height="5.2" fill="url(#pN2)" stroke="#111" stroke-width="1.1"/>
<text x="515.6" y="301.4" font-size="10.5" font-family='"Liberation Serif", serif' fill="#262626" stroke="#262626" stroke-width="0.22" textLength="12.4" lengthAdjust="spacingAndGlyphs">N2</text>
<text x="400.6" y="464.6" font-size="10.5" font-family='"Liberation Serif", serif' fill="#222" stroke="#222" stroke-width="0.2" textLength="13.4" lengthAdjust="spacingAndGlyphs">(<tspan font-weight="bold">d</tspan>)</text>
</g>
</svg>
</body></html>
